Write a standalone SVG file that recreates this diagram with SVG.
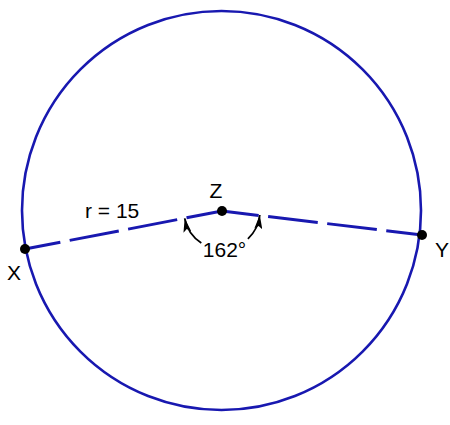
<svg xmlns="http://www.w3.org/2000/svg" width="450" height="425" viewBox="0 0 450 425">
<style>
.lbl{font-family:"Liberation Sans",Arial,sans-serif;font-size:21px;fill:#000}
.edge{stroke:#1818b0;stroke-width:3;fill:none;stroke-dasharray:50 9.5;stroke-dashoffset:14}
.ang{stroke:#000;stroke-width:1.8;fill:none;marker-end:url(#ah)}
.pt{fill:#000}
</style>
<defs>
<marker id="ah" viewBox="0 0 14 8" refX="14" refY="4" markerWidth="14" markerHeight="8" markerUnits="userSpaceOnUse" orient="auto">
<path d="M0,0 L14,4 L0,8 L3,4 z" fill="#000"/>
</marker>
</defs>
<rect width="450" height="425" fill="#fff"/>
<g id="circle">
<circle cx="221.5" cy="210.5" r="199.5" fill="none" stroke="#1818b0" stroke-width="2.6"/>
</g>
<g id="connectors">
<path class="edge" d="M25,249 L222,211"/>
<path class="edge" d="M422,235 L222,211"/>
<path class="ang" d="M201.3,242.9 A38,38 0 0 1 184.7,218.3"/>
<path class="ang" d="M247.9,238.8 A38,38 0 0 0 259.8,215"/>
</g>
<g id="X">
<circle class="pt" cx="25" cy="249" r="5"/>
<text class="lbl" x="7" y="280">X</text>
</g>
<g id="Y">
<circle class="pt" cx="422" cy="235" r="5"/>
<text class="lbl" x="435" y="257">Y</text>
</g>
<g id="Z">
<circle class="pt" cx="222" cy="211" r="5"/>
<text class="lbl" x="216" y="198" text-anchor="middle">Z</text>
</g>
<g id="labels">
<text class="lbl" x="85" y="218">r = 15</text>
<text class="lbl" x="224.5" y="257" text-anchor="middle">162°</text>
</g>
</svg>
